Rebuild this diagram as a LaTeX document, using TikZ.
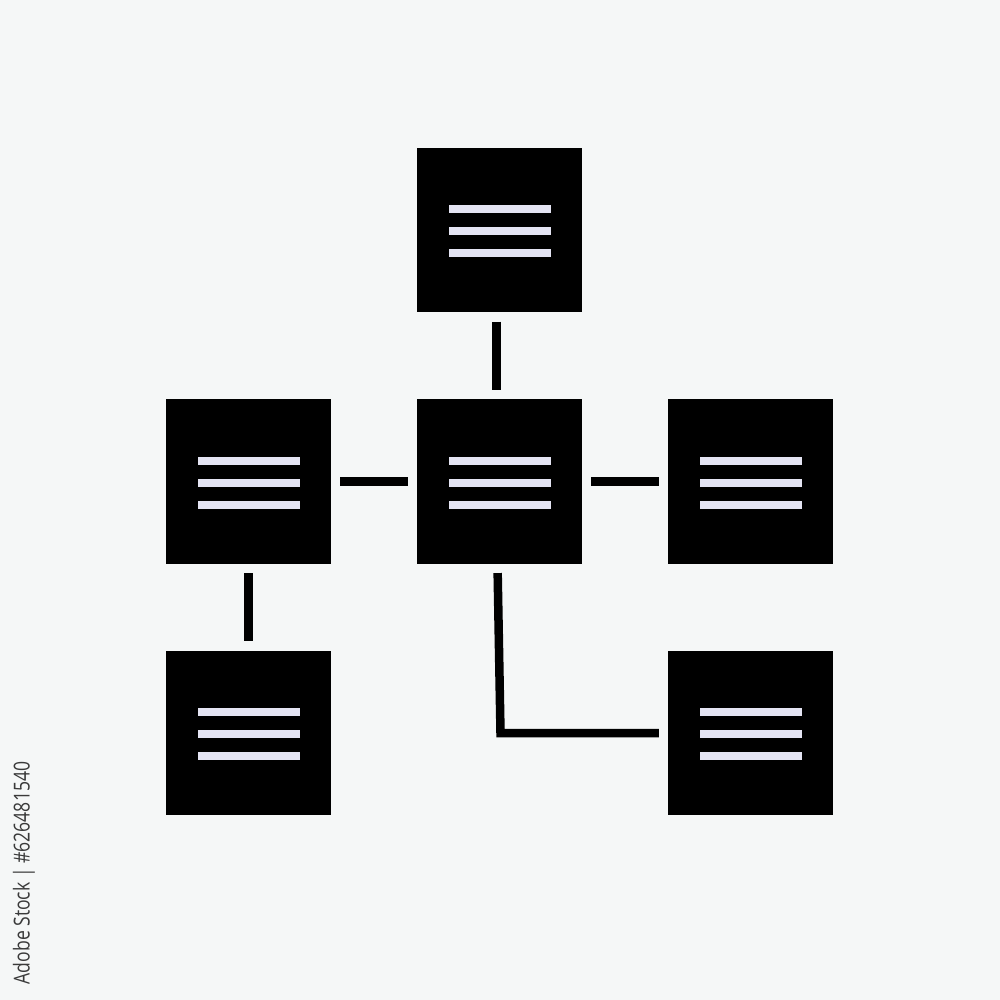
\documentclass[tikz,border=0pt]{standalone}
\usepackage{fontspec}
\newfontfamily\idfont{Open Sans}
\usetikzlibrary{calc}
\definecolor{bg}{HTML}{F5F7F7}
\definecolor{bar}{HTML}{E4E4F3}
\definecolor{idgray}{HTML}{3A3A3A}
\tikzset{
  box/.style={fill=black, draw=none, minimum width=1.64cm, minimum height=1.64cm, inner sep=0pt},
  link/.style={draw=black, line width=0.085cm, shorten <=0.088cm, shorten >=0.088cm, line join=miter},
  barline/.style={fill=bar},
}
\newcommand{\textbars}[1]{%
  \foreach \dy in {-21,1,23}{%
    \fill[barline] ($(#1.center)+(-51,\dy-4)$) rectangle ($(#1.center)+(51,\dy+4)$);
  }%
}
\begin{document}
\begin{tikzpicture}[x=0.01cm,y=-0.01cm]
\fill[bg] (0,0) rectangle (1000,1000);
\useasboundingbox (0,0) rectangle (1000,1000);
\node[box] (top) at (499.5,230) {};
\node[box] (ml) at (248.5,481.5) {};
\node[box] (mc) at (499.5,481.5) {};
\node[box] (mr) at (750.5,481.5) {};
\node[box] (bl) at (248.5,733) {};
\node[box] (br) at (750.5,733) {};
\foreach \n in {top,ml,mc,mr,bl,br}{\textbars{\n}}
\draw[link] ($(top.south)+(-3,0)$) -- ($(mc.north)+(-3,0)$);
\draw[link] (ml.east) -- (mc.west);
\draw[link] (mc.east) -- (mr.west);
\draw[link] (ml.south) -- (bl.north);
\coordinate (corner) at (500.5,733);
\draw[link] ($(mc.south)+(-2,0)$) -- (corner) -- (br.west);
\node[rotate=90, text=idgray, inner sep=0pt, font=\idfont\fontsize{5}{6}\selectfont, xscale=1, yscale=1.25] (id) at (24,873) {Adobe Stock | \#626481540};
\end{tikzpicture}
\end{document}
